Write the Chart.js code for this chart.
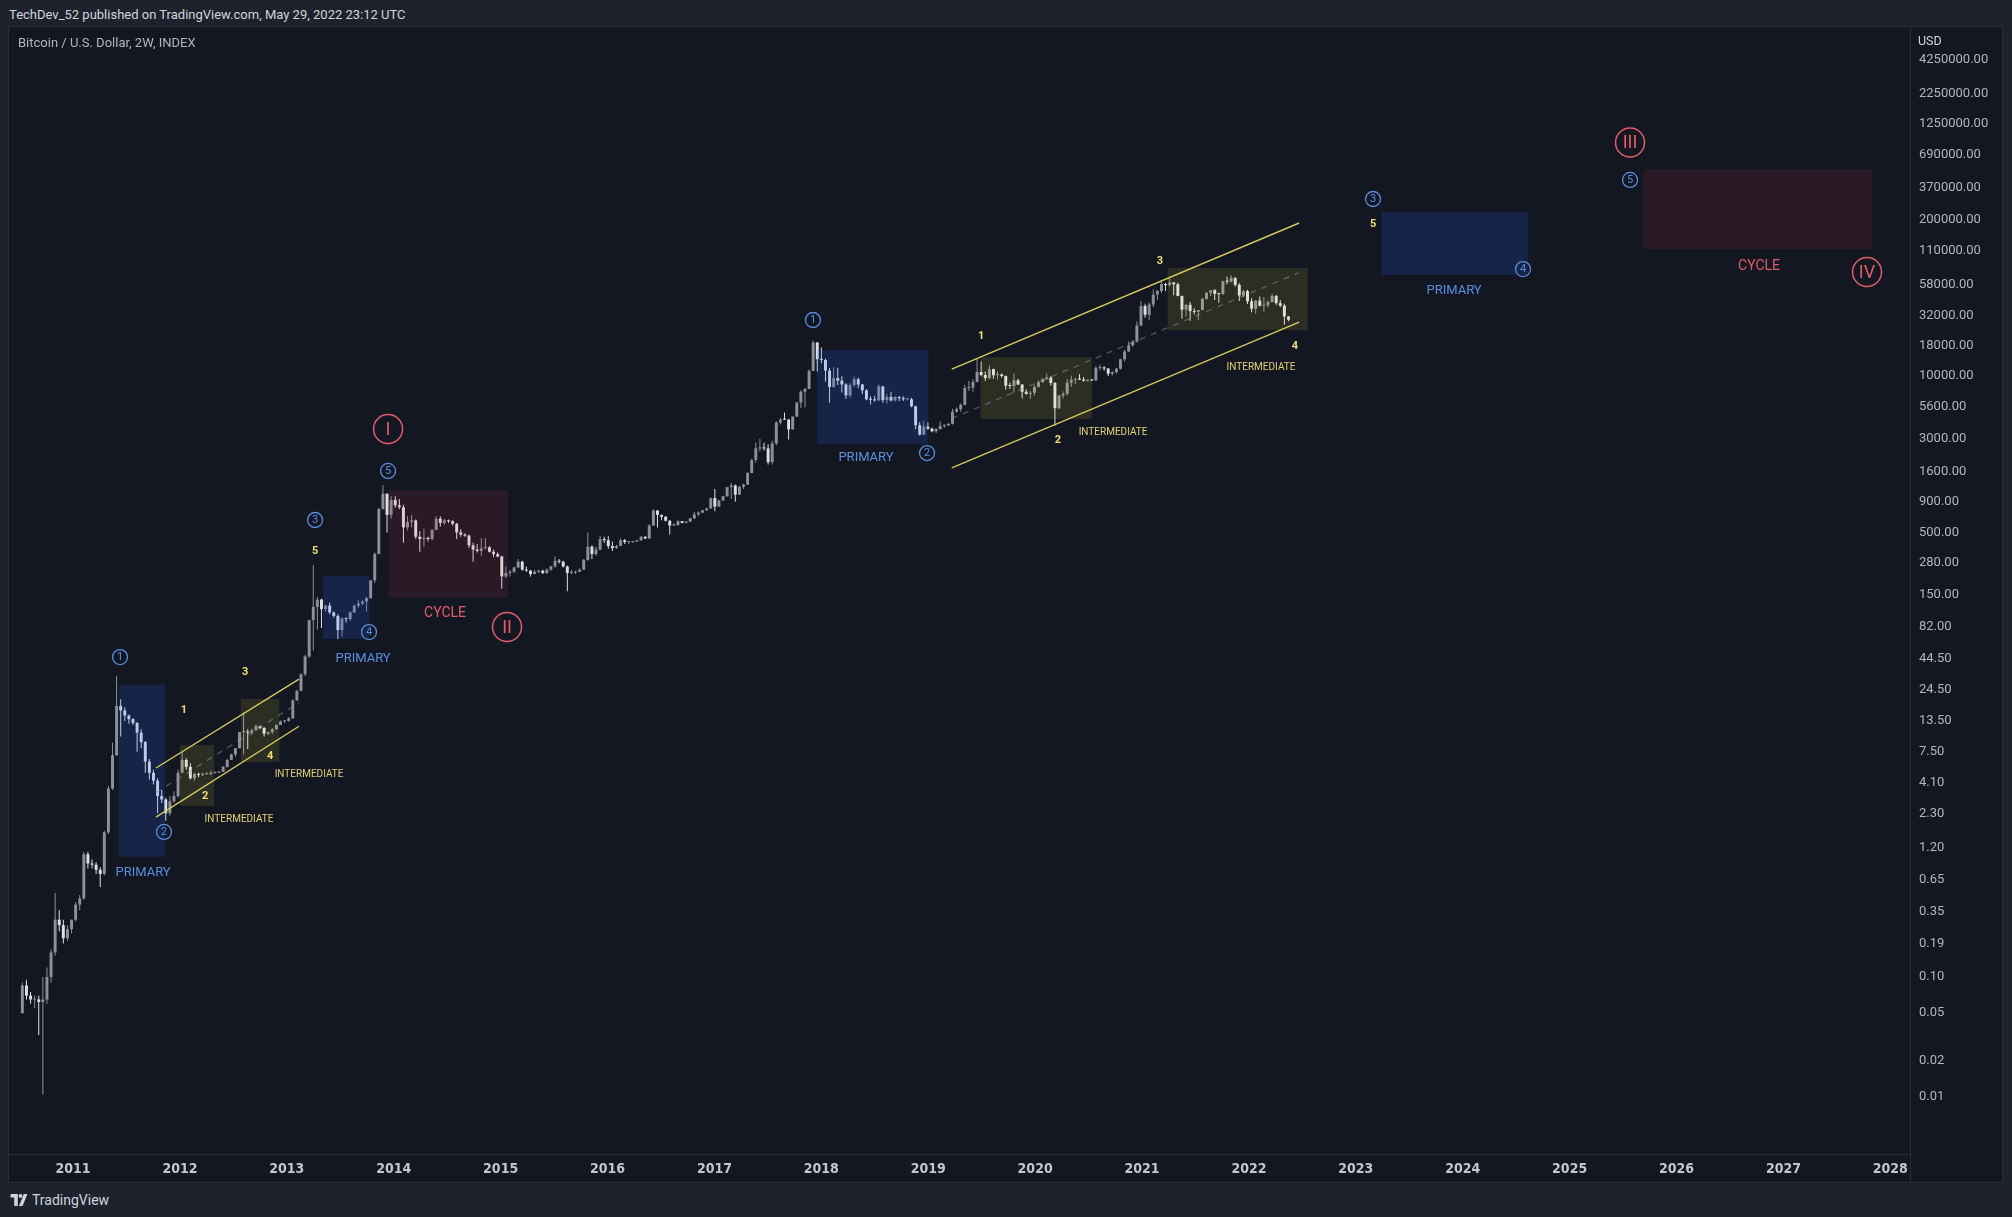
<!DOCTYPE html>
<html>
<head>
<meta charset="utf-8">
<title>Bitcoin / U.S. Dollar, 2W</title>
<script src="https://cdn.jsdelivr.net/npm/chart.js@4.4.1/dist/chart.umd.min.js"></script>
<style>
  html, body { margin: 0; padding: 0; background: #1e222d; }
  body { width: 2012px; height: 1217px; overflow: hidden; position: relative; font-family: 'Liberation Sans Narrow', 'Roboto', sans-serif; }
  #header { position: absolute; left: 9px; top: 7px; font-size: 13px; line-height: 15px; color: #d1d4dc; }
  #frame { position: absolute; left: 8px; top: 26px; width: 1995px; height: 1157px; box-sizing: border-box; border: 1px solid #2a2e39; background: #131722; }
  #wrap { position: absolute; left: 9px; top: 27px; width: 1993px; height: 1155px; }
  #axisline { position: absolute; left: 1910px; top: 1154px; width: 1px; height: 28px; background: #2a2e39; }
  #legend { position: absolute; left: 18px; top: 35px; font-size: 13px; line-height: 15px; color: #b2b5be; }
  #usd { position: absolute; left: 1918px; top: 34px; font: 12.5px Roboto, sans-serif; line-height: 14px; color: #d1d4dc; }
  #footer { position: absolute; left: 10px; top: 1192px; font-size: 14px; line-height: 16px; color: #d1d4dc; display: flex; align-items: center; gap: 4px; }
</style>
</head>
<body>
<div id="header">TechDev_52 published on TradingView.com, May 29, 2022 23:12 UTC</div>
<div id="frame"></div>
<div id="wrap"><canvas id="btc" width="1993" height="1155"></canvas></div>
<div id="axisline"></div>
<div id="legend">Bitcoin / U.S. Dollar, 2W, INDEX</div>
<div id="usd">USD</div>
<div id="footer">
  <svg width="18" height="12" viewBox="0 0 14 10"><path d="M0 0h6v10H3V3H0z" fill="#d1d4dc"/><circle cx="8.3" cy="1.6" r="1.6" fill="#d1d4dc"/><path d="M11 0h3l-4 10H7z" fill="#d1d4dc"/></svg>
  <span>TradingView</span>
</div>
<script>
// 2-week bars, first one starts 12 Jul 2010
const firstBar = 2010.526;
const barStep = 14 / 365.25;

const opens = [
  // 2010
  .05,.085,.07,.065,.065,.062,.065,.10,.16,.30,.27,.21,.25,
  // 2011
  .30,.40,.45,1.05,.88,.86,.78,.72,1.60,3.70,7.00,18.0,16.5,15.0,14.0,13.0,10.8,9.0,6.2,5.0,4.3,3.2,3.0,2.3,2.9,3.2,
  // 2012
  5.0,6.4,5.6,4.5,4.9,4.8,4.9,4.9,5.0,5.0,5.1,5.6,6.4,7.1,8.0,10.9,11.0,10.8,11.3,12.2,11.8,10.6,10.9,11.5,12.5,13.4,
  // 2013
  13.5,14.2,20.0,24.0,33.0,46.5,93,120,138,115,123,108,101,77,96,95,108,123,128,133,142,200,330,780,1050,700,
  // 2014
  930,840,810,550,610,630,460,440,450,440,525,650,600,630,620,590,500,480,470,390,360,350,370,375,345,330,
  // 2015
  315,215,230,235,255,285,245,240,225,235,240,230,245,260,290,285,260,230,232,235,245,295,380,330,360,440,
  // 2016
  430,385,370,385,430,415,415,420,430,460,445,570,760,700,675,625,570,575,620,600,615,655,705,730,765,790,
  // 2017
  965,820,920,1000,1190,1230,1030,1200,1250,1560,2000,2500,2530,2500,1920,2750,4100,4340,4330,3600,4600,6000,7400,7800,11000,19000,
  // 2018
  13800,13600,11100,8100,9600,9150,8500,6900,8400,9400,8500,7600,6400,6350,6280,8200,6300,6700,6260,6700,6550,6400,6400,5600,3900,3250,3800,
  // 2019
  3650,3470,3620,3850,3880,4000,5050,5300,5750,7950,8000,8900,10800,10200,9600,11400,10150,10300,10000,8300,8250,9200,8500,7400,7100,7250,
  // 2020
  8100,8900,9400,9700,8750,5400,6900,7100,8800,9300,9450,9350,9130,9300,9200,11650,11700,11550,10450,10750,11500,13800,16000,18000,19300,26300,
  // 2021
  38200,32300,39300,47500,51000,58200,57000,60000,58000,46400,35700,39100,34700,34200,35400,43800,49300,51700,48300,48200,61500,61000,65500,57300,46800,50800,
  // 2022
  41800,36300,42400,38400,39000,41300,46400,40400,38500,31300
];
const highs = [
  .09,.095,.075,.07,.07,.10,.12,.17,.50,.36,.30,.27,.30,
  .42,.48,1.10,1.10,.95,.90,.82,1.65,3.90,8.90,31.9,20.5,17.5,15.3,14.2,13.2,11.5,9.2,6.5,5.3,4.5,3.6,3.1,3.2,3.5,5.3,
  7.4,6.6,6.0,5.0,5.0,5.0,5.0,5.2,5.1,5.2,5.7,6.5,7.2,8.0,10.9,15.9,11.5,11.6,12.6,12.4,12.0,11.0,11.8,12.6,13.6,13.7,
  14.5,20.5,24.5,33.5,48.0,94,266,145,140,125,130,110,104,98,98,110,125,136,136,145,200,340,800,1242,1050,1000,
  1000,950,850,680,700,640,510,540,460,530,680,680,650,640,630,600,530,490,480,410,400,450,450,385,360,340,
  320,260,245,260,300,290,260,245,245,245,245,250,265,315,300,290,265,245,240,250,300,500,390,380,470,460,
  465,420,395,445,440,420,425,435,465,465,585,780,765,700,680,630,595,630,620,620,660,740,750,770,800,975,
  1150,935,1010,1195,1290,1250,1210,1270,1580,2050,2800,3000,2780,2700,2900,4200,4500,4980,4380,4600,6100,7600,8000,11400,19800,19100,
  17250,14000,11700,11800,11700,9950,8700,8700,9950,9700,8600,7770,6800,6850,8480,8250,7100,7400,6800,6800,6800,6550,6600,5650,4150,4250,4100,
  3720,3700,4200,3950,4050,5350,5470,5900,8400,9100,9400,13900,13200,10900,12300,11500,10900,10500,10100,8800,10500,9500,8550,7750,7550,8450,
  9200,9600,10500,9950,8900,7000,7450,9450,10050,9600,10400,9800,9400,9400,12100,12450,12100,11600,10950,11700,13900,16500,19400,19900,28400,42000,
  40000,40900,52600,52000,61800,59500,64900,60500,59600,46600,39900,41300,36600,35500,44800,49500,51900,52900,48700,62000,67000,69000,66300,59000,52000,52100,
  44400,42600,45800,45400,42400,48200,47200,42900,40000,31400
];
const lows = [
  .05,.065,.06,.055,.033,.0105,.06,.09,.15,.24,.19,.20,.23,
  .29,.36,.44,.80,.80,.72,.56,.70,1.55,3.60,6.90,10.0,13.5,12.8,12.5,7.5,8.0,5.0,4.4,4.0,2.3,2.8,2.0,2.2,2.8,3.1,
  5.0,5.3,4.4,4.3,4.6,4.7,4.8,4.8,4.9,5.0,5.1,5.5,6.4,6.8,8.0,7.1,7.9,10.3,11.2,11.5,10.0,10.3,10.5,11.5,12.5,13.0,
  13.3,14.0,19.8,24.0,32.0,45.0,52,78,80,110,104,98,65,68,89,92,107,118,124,110,140,190,330,780,500,650,
  800,780,410,520,550,440,345,380,420,430,520,560,580,600,570,440,460,460,370,285,340,320,360,340,310,310,
  170,210,215,230,255,240,235,215,225,230,225,225,240,255,275,255,162,225,225,235,245,290,300,320,355,410,
  365,350,365,385,400,400,410,418,425,440,440,565,550,630,620,480,565,570,595,595,610,645,680,725,755,785,
  750,820,915,990,950,900,1030,1150,1240,1550,1900,2350,2400,1840,1840,2650,3950,4300,2970,3580,4550,5400,5500,7800,11000,10900,
  12800,9000,6000,8000,8400,7300,6450,6600,8100,7900,7050,6300,5800,6100,6200,6000,5900,6150,6150,6200,6200,6300,5500,3600,3200,3250,3550,
  3400,3350,3580,3700,3850,3950,4950,5050,5700,7500,7400,8900,9900,9100,9400,9500,9350,9700,7700,7800,7300,8400,6500,7000,6450,6900,
  8050,8800,9400,8300,3850,5300,6500,6900,8100,8600,9250,9000,8950,9050,9100,11150,11100,10000,10100,10500,11350,13200,15950,17500,19000,26000,
  30500,29200,37300,43000,49000,51000,55500,47000,46000,30000,31100,28800,32700,29300,35300,43000,46400,42800,40600,47000,58000,60000,55600,42000,45500,39700,
  34000,32900,37800,34300,37200,40900,39200,37600,26700,28600
];
const closes = [
  .085,.07,.065,.065,.062,.065,.10,.16,.30,.27,.21,.25,.30,
  .40,.45,1.05,.88,.86,.78,.72,1.60,3.70,7.00,18.0,16.5,15.0,14.0,13.0,10.8,9.0,6.2,5.0,4.3,3.2,3.0,2.3,2.9,3.2,5.0,
  6.4,5.6,4.5,4.9,4.8,4.9,4.9,5.0,5.0,5.1,5.6,6.4,7.1,8.0,10.9,11.0,10.8,11.3,12.2,11.8,10.6,10.9,11.5,12.5,13.4,13.5,
  14.2,20.0,24.0,33.0,46.5,93,120,138,115,123,108,101,77,96,95,108,123,128,133,142,200,330,780,1050,700,930,
  840,810,550,610,630,460,440,450,440,525,650,600,630,620,590,500,480,470,390,360,350,370,375,345,330,315,
  215,230,235,255,285,245,240,225,235,240,230,245,260,290,285,260,230,232,235,245,295,380,330,360,440,430,
  385,370,385,430,415,415,420,430,460,445,570,760,700,675,625,570,575,620,600,615,655,705,730,765,790,965,
  820,920,1000,1190,1230,1030,1200,1250,1560,2000,2500,2530,2500,1920,2750,4100,4340,4330,3600,4600,6000,7400,7800,11000,19000,13800,
  13600,11100,8100,9600,9150,8500,6900,8400,9400,8500,7600,6400,6350,6280,8200,6300,6700,6260,6700,6550,6400,6400,5600,3900,3250,3800,3650,
  3470,3620,3850,3880,4000,5050,5300,5750,7950,8000,8900,10800,10200,9600,11400,10150,10300,10000,8300,8250,9200,8500,7400,7100,7250,8100,
  8900,9400,9700,8750,5400,6900,7100,8800,9300,9450,9350,9130,9300,9200,11650,11700,11550,10450,10750,11500,13800,16000,18000,19300,26300,38200,
  32300,39300,47500,51000,58200,57000,60000,58000,46400,35700,39100,34700,34200,35400,43800,49300,51700,48300,48200,61500,61000,65500,57300,46800,50800,41800,
  36300,42400,38400,39000,41300,46400,40400,38500,31300,29400
];

const yearTicks = [2011,2012,2013,2014,2015,2016,2017,2018,2019,2020,2021,2022,2023,2024,2025,2026,2027,2028];
const priceTicks = [4250000,2250000,1250000,690000,370000,200000,110000,58000,32000,18000,10000,5600,3000,1600,900,500,280,150,82,44.5,24.5,13.5,7.5,4.1,2.3,1.2,0.65,0.35,0.19,0.10,0.05,0.02,0.01];

// drawings, in (year, price) coordinates
const boxes = [
  {kind: 'primary', from: 2011.43, to: 2011.86, low: 1.0, high: 27},
  {kind: 'primary', from: 2013.34, to: 2013.77, low: 64.9, high: 217},
  {kind: 'cycle', from: 2013.95, to: 2015.07, low: 142, high: 1127},
  {kind: 'primary', from: 2017.96, to: 2019.0, low: 2717, high: 16440},
  {kind: 'primary', from: 2023.24, to: 2024.61, low: 69200, high: 231000},
  {kind: 'cycle', from: 2025.69, to: 2027.83, low: 114000, high: 527000},
  {kind: 'intermediate', from: 2012.0, to: 2012.32, low: 2.65, high: 8.5},
  {kind: 'intermediate', from: 2012.57, to: 2012.93, low: 6.15, high: 20.6},
  {kind: 'intermediate', from: 2019.49, to: 2020.53, low: 4385, high: 14380},
  {kind: 'intermediate', from: 2021.24, to: 2022.55, low: 24150, high: 79100}
];
const channels = [
  {from: 2011.776, to: 2013.114, upper: [5.48, 30.1], lower: [2.14, 12.2]},
  {from: 2019.22, to: 2022.47, upper: [11430, 187500], lower: [1718, 28100]}
];
const primaryWaves = [['1', 2011.44, 45.9], ['2', 2011.851, 1.61], ['3', 2013.264, 634], ['4', 2013.769, 74.1], ['5', 2013.947, 1622],
  ['1', 2017.922, 29240], ['2', 2018.989, 2287], ['3', 2023.161, 297000], ['4', 2024.564, 77600], ['5', 2025.565, 427600]];
const cycleWaves = [['I', 2013.947, 3622], ['II', 2015.06, 81.6], ['III', 2025.565, 877000], ['IV', 2027.782, 73300]];
const intermediateWaves = [['1', 2012.038, 16.6], ['2', 2012.235, 3.21], ['3', 2012.609, 34.4], ['4', 2012.843, 6.9], ['5', 2013.264, 350],
  ['1', 2019.494, 21500], ['2', 2020.214, 2939], ['3', 2021.168, 90600], ['4', 2022.431, 17780], ['5', 2023.161, 181900]];
const degreeNames = [['PRIMARY', 'primary', 2011.655, 0.733], ['PRIMARY', 'primary', 2013.713, 44.3], ['PRIMARY', 'primary', 2018.418, 2080],
  ['PRIMARY', 'primary', 2023.919, 50900], ['CYCLE', 'cycle', 2014.48, 106.7], ['CYCLE', 'cycle', 2026.772, 82200],
  ['INTERMEDIATE', 'intermediate', 2012.553, 2.06], ['INTERMEDIATE', 'intermediate', 2013.208, 4.8],
  ['INTERMEDIATE', 'intermediate', 2020.729, 3420], ['INTERMEDIATE', 'intermediate', 2022.113, 11660]];

const UP = '#8d909a', DOWN = '#dcdfe6';
const fills = {primary: 'rgba(41, 98, 255, 0.17)', cycle: 'rgba(242, 54, 69, 0.10)', intermediate: 'rgba(255, 235, 59, 0.11)'};
const inks = {primary: '#5a8de0', cycle: '#e05c68', intermediate: '#e2d173'};

const times = closes.map((c, i) => firstBar + i * barStep);
const colors = closes.map((c, i) => c >= opens[i] ? UP : DOWN);

const drawings = {
  id: 'drawings',
  afterDatasetsDraw(chart) {
    const {ctx, chartArea: a, scales: {x, y}} = chart;
    ctx.save();
    ctx.beginPath();
    ctx.rect(a.left, a.top, a.right - a.left, a.bottom - a.top);
    ctx.clip();

    boxes.forEach(b => {
      const x1 = x.getPixelForValue(b.from), x2 = x.getPixelForValue(b.to);
      const y1 = y.getPixelForValue(b.high), y2 = y.getPixelForValue(b.low);
      ctx.fillStyle = fills[b.kind];
      ctx.fillRect(x1, y1, x2 - x1, y2 - y1);
    });

    channels.forEach(c => {
      const xa = x.getPixelForValue(c.from), xb = x.getPixelForValue(c.to);
      const ua = y.getPixelForValue(c.upper[0]), ub = y.getPixelForValue(c.upper[1]);
      const la = y.getPixelForValue(c.lower[0]), lb = y.getPixelForValue(c.lower[1]);
      ctx.strokeStyle = '#d8c85a';
      ctx.lineWidth = 1.4;
      ctx.setLineDash([]);
      ctx.beginPath();
      ctx.moveTo(xa, ua); ctx.lineTo(xb, ub);
      ctx.moveTo(xa, la); ctx.lineTo(xb, lb);
      ctx.stroke();
      ctx.strokeStyle = 'rgba(150, 155, 165, 0.45)';
      ctx.setLineDash([6, 6]);
      ctx.beginPath();
      ctx.moveTo(xa, (ua + la) / 2); ctx.lineTo(xb, (ub + lb) / 2);
      ctx.stroke();
      ctx.setLineDash([]);
    });

    ctx.textAlign = 'center';
    ctx.textBaseline = 'middle';

    primaryWaves.forEach(([t, xv, yv]) => {
      const px = x.getPixelForValue(xv), py = y.getPixelForValue(yv);
      ctx.strokeStyle = inks.primary;
      ctx.lineWidth = 1.3;
      ctx.beginPath(); ctx.arc(px, py, 7.5, 0, Math.PI * 2); ctx.stroke();
      ctx.fillStyle = inks.primary;
      ctx.font = '11px Roboto';
      ctx.fillText(t, px, py + 0.5);
    });

    cycleWaves.forEach(([t, xv, yv]) => {
      const px = x.getPixelForValue(xv), py = y.getPixelForValue(yv);
      ctx.strokeStyle = inks.cycle;
      ctx.lineWidth = 1.5;
      ctx.beginPath(); ctx.arc(px, py, 14.5, 0, Math.PI * 2); ctx.stroke();
      ctx.fillStyle = inks.cycle;
      ctx.font = '18px Roboto';
      ctx.fillText(t, px, py + 1);
    });

    intermediateWaves.forEach(([t, xv, yv]) => {
      ctx.fillStyle = '#f0dc72';
      ctx.font = 'bold 11px Roboto';
      ctx.fillText(t, x.getPixelForValue(xv), y.getPixelForValue(yv));
    });

    degreeNames.forEach(([t, kind, xv, yv]) => {
      ctx.fillStyle = inks[kind];
      ctx.font = kind === 'intermediate' ? '10px Roboto' : (kind === 'cycle' ? '14px Roboto' : '13px Roboto');
      ctx.fillText(t, x.getPixelForValue(xv), y.getPixelForValue(yv));
    });

    ctx.restore();
  }
};

Chart.defaults.font.family = 'Roboto';

new Chart(document.getElementById('btc'), {
  type: 'bar',
  data: {
    datasets: [
      {
        label: 'body',
        data: times.map((t, i) => ({x: t, y: [opens[i], closes[i]]})),
        backgroundColor: colors,
        maxBarThickness: 3,
        minBarLength: 1,
        order: 0
      },
      {
        label: 'wick',
        data: times.map((t, i) => ({x: t, y: [lows[i], highs[i]]})),
        backgroundColor: colors,
        maxBarThickness: 1,
        order: 1
      }
    ]
  },
  options: {
    responsive: false,
    animation: false,
    devicePixelRatio: 1,
    layout: {padding: 0},
    datasets: {bar: {grouped: false, borderWidth: 0}},
    plugins: {legend: {display: false}, tooltip: {enabled: false}},
    scales: {
      x: {
        type: 'linear',
        position: 'bottom',
        bounds: 'data',
        offset: false,
        stacked: false,
        min: 2010.401,
        max: 2028.184,
        grid: {display: false, drawTicks: false},
        border: {display: true, color: '#2a2e39'},
        afterBuildTicks: s => { s.ticks = yearTicks.map(v => ({value: v})); },
        afterFit: s => { s.height = 28; s.paddingLeft = 0; s.paddingRight = 0; },
        ticks: {
          autoSkip: false,
          maxRotation: 0,
          padding: 7,
          color: '#c3c6ce',
          font: {family: '"DejaVu Sans Condensed", Roboto, sans-serif', size: 14, weight: 'bold'},
          callback: v => String(v)
        }
      },
      y: {
        type: 'logarithmic',
        position: 'right',
        bounds: 'data',
        offset: false,
        stacked: false,
        min: 0.003369,
        max: 8010000,
        grid: {display: false, drawTicks: false},
        border: {display: true, color: '#2a2e39'},
        afterBuildTicks: s => { s.ticks = priceTicks.map(v => ({value: v})); },
        afterFit: s => { s.width = 92; s.paddingTop = 0; s.paddingBottom = 0; },
        ticks: {
          autoSkip: false,
          padding: 9,
          crossAlign: 'near',
          color: '#b2b5be',
          font: {family: 'Roboto', size: 13},
          callback: v => Number(v).toFixed(2)
        }
      }
    }
  },
  plugins: [drawings]
});
</script>
</body>
</html>
